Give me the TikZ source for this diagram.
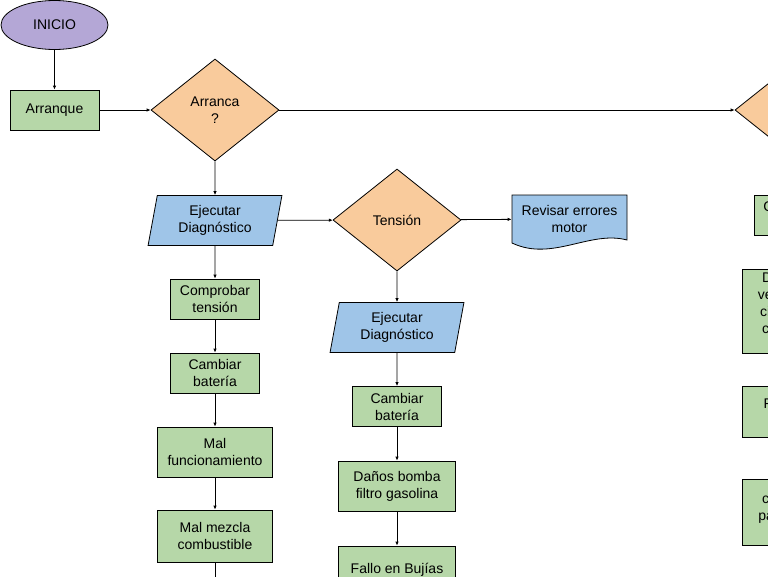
\documentclass[tikz,border=0pt]{standalone}
\usepackage{fontspec}
\setmainfont{Liberation Sans}
\usetikzlibrary{shapes.geometric,arrows.meta}

\definecolor{boxgreen}{HTML}{B6D7A8}
\definecolor{diamondorange}{HTML}{F9CB9C}
\definecolor{iblue}{HTML}{9FC5E8}
\definecolor{startpurple}{HTML}{B4A7D6}

\tikzset{
  box/.style={draw, fill=boxgreen, minimum width=89pt, minimum height=40pt, inner sep=0pt, align=center},
  widebox/.style={box, minimum width=115pt, minimum height=50pt},
  decision/.style={draw, fill=diamondorange, diamond, aspect=1.255, minimum width=128pt, minimum height=102pt, inner sep=0pt, align=center},
  iobox/.style={draw, fill=iblue, trapezium, trapezium left angle=79, trapezium right angle=101, trapezium stretches=true, minimum width=135pt, minimum height=50pt, inner sep=0pt, align=center},
  startnode/.style={draw, fill=startpurple, ellipse, minimum width=107pt, minimum height=49pt, inner sep=0pt},
  flow/.style={-{Latex[length=4pt,width=3.5pt]}}
}

\begin{document}
\begin{tikzpicture}[x=1pt,y=-1pt,font=\fontsize{14}{17}\selectfont,line width=0.8pt]
\useasboundingbox (0,0) rectangle (768,576);
\clip (0,0) rectangle (768,576);

% first the start and the first question
\node[startnode] (inicio) at (54.5,25) {INICIO};
\node[box] (arranque) at (54.5,110) {Arranque};
\node[decision] (arranca) at (215,110) {Arranca\\?};
\node[decision] (derecha) at (799,110) {};

% left column
\node[iobox] (diag1) at (215,220.5) {Ejecutar\\Diagnóstico};
\node[box] (comprobar) at (215,299) {Comprobar\\tensión};
\node[box] (bateria1) at (215,373) {Cambiar\\batería};
\node[widebox] (malfunc) at (215,452) {Mal\\funcionamiento};
\node[widebox, minimum height=52pt] (malmezcla) at (215,536) {Mal mezcla\\combustible};
\coordinate (abajo) at (215,620);

% middle column
\node[decision] (tension) at (397,220) {Tensión};
\node[iobox] (diag2) at (397,327.5) {Ejecutar\\Diagnóstico};
\node[box] (bateria2) at (397,406.5) {Cambiar\\batería};
\node[widebox, minimum width=117pt] (danos) at (397,486) {Daños bomba\\filtro gasolina};
\node[widebox, minimum width=117pt, minimum height=48pt] (bujias) at (397,570) {Fallo en Bujías};

% the document shape
\draw[fill=iblue] (512,195) -- (627,195) -- (627,240)
  .. controls (590,230) and (552,262) .. (512,243) -- cycle;
\node[minimum width=115pt, minimum height=48pt, inner sep=0pt, align=center] (revisar) at (569.5,219) {Revisar errores\\motor};

% right column, cut off by the border
\node[box] (compr2) at (798.5,215) {Comprobar\\~};
\node[widebox, minimum height=84pt] (danos2) at (799.5,311) {Daños en el\\ventilador del\\circuito de la\\combustible\\~};
\node[widebox, minimum height=51pt] (fallo2) at (799.5,411.5) {Fallo en las\\~};
\node[widebox, minimum height=66pt] (revisar2) at (799.5,512) {~\\combustible\\para el motor\\~};

% connectors
\draw[flow] (inicio) -- (arranque);
\draw[flow] (arranque) -- (arranca);
\draw[flow] (arranca) -- (derecha);
\draw[flow] (arranca) -- (diag1);
\draw[flow] (diag1) -- (tension);
\draw[flow] (tension) -- (revisar);
\draw[flow] (diag1) -- (comprobar);
\draw[flow] (comprobar) -- (bateria1);
\draw[flow] (bateria1) -- (malfunc);
\draw[flow] (malfunc) -- (malmezcla);
\draw[flow] (malmezcla) -- (abajo);
\draw[flow] (tension) -- (diag2);
\draw[flow] (diag2) -- (bateria2);
\draw[flow] (bateria2) -- (danos);
\draw[flow] (danos) -- (bujias);

\end{tikzpicture}
\end{document}
